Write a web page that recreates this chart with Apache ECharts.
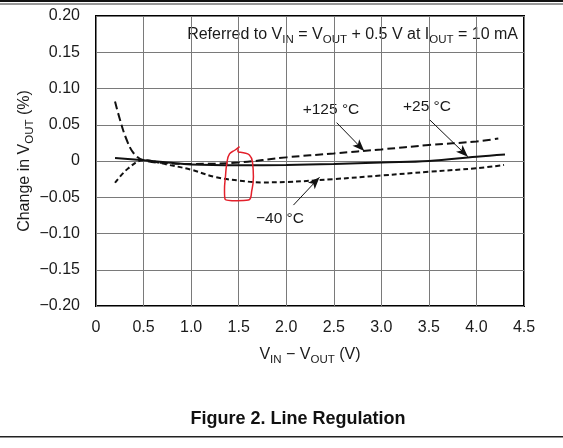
<!DOCTYPE html>
<html lang="en">
<head>
    <meta charset="UTF-8">
    <title>Line Regulation</title>
    <script src="https://cdn.jsdelivr.net/npm/echarts@6/dist/echarts.min.js"></script>
    <style>
        html, body { margin: 0; padding: 0; background: #fff; }
        #chart { width: 563px; height: 448px; }
    </style>
</head>
<body>
    <div id="chart"></div>
    <script>
        // VIN - VOUT (V) vs change in VOUT (%)
        const temp25 = [
            [0.2, 0.004], [0.5, 0.001], [0.75, -0.002], [1.0, -0.0048], [1.5, -0.0058],
            [2.0, -0.0055], [2.5, -0.0042], [3.0, -0.002], [3.5, 0.0], [4.0, 0.006], [4.3, 0.009]
        ];
        const temp125 = [
            [0.2, 0.082], [0.25, 0.058], [0.32, 0.030], [0.4, 0.010], [0.5, 0.001],
            [0.75, -0.003], [1.0, -0.004], [1.5, -0.002], [2.0, 0.005], [2.5, 0.0105],
            [3.0, 0.016], [3.5, 0.022], [4.0, 0.027], [4.23, 0.031]
        ];
        const tempMinus40 = [
            [0.2, -0.030], [0.34, -0.010], [0.5, 0.001], [0.75, -0.005], [1.0, -0.012],
            [1.25, -0.022], [1.5, -0.027], [1.75, -0.0295], [2.0, -0.029], [2.5, -0.025],
            [3.0, -0.020], [3.5, -0.0148], [4.0, -0.010], [4.29, -0.0055]
        ];
        // hand drawn red loop around 1.5 V
        const markupLoop = [
            [1.509, 0.0198], [1.463, 0.0152], [1.404, 0.0097], [1.376, -0.0032], [1.361, -0.0217],
            [1.351, -0.040], [1.358, -0.0529], [1.481, -0.0548], [1.603, -0.0539], [1.639, -0.040],
            [1.655, -0.0217], [1.645, -0.001], [1.613, 0.0083], [1.55, 0.0115], [1.498, 0.0124], [1.491, 0.016]
        ];
        const xTickLabels = ['0', '0.5', '1.0', '1.5', '2.0', '2.5', '3.0', '3.5', '4.0', '4.5'];
        const yTickLabels = ['\u22120.20', '\u22120.15', '\u22120.10', '\u22120.05', '0', '0.05', '0.10', '0.15', '0.20'];
        // callout arrows: [from, to]
        const arrow125 = [[2.53, 0.0529], [2.82, 0.0138]];
        const arrow25 = [[3.51, 0.0566], [3.91, 0.0059]];
        const arrowMinus40 = [[2.076, -0.0608], [2.35, -0.0225]];

        const font = '"Liberation Sans", Arial, sans-serif';
        const ink = '#1a1a1a';

        // normal + subscript styles for rich text
        const richText = {
            n: { fontFamily: font, fontSize: 16, color: ink, fill: ink, lineHeight: 22, verticalAlign: 'middle' },
            s: { fontFamily: font, fontSize: 11.5, color: ink, fill: ink, lineHeight: 13, verticalAlign: 'bottom' }
        };

        const chart = echarts.init(document.getElementById('chart'));

        function arrowLine(pair) {
            return [{ coord: pair[0] }, { coord: pair[1] }];
        }

        chart.setOption({
            animation: false,
            backgroundColor: '#fff',
            grid: {
                left: 96, right: 39, top: 16, bottom: 142,
                show: true, borderColor: '#000', borderWidth: 2
            },
            xAxis: {
                type: 'value', min: 0, max: 4.5, interval: 0.5,
                axisLine: { show: false }, axisTick: { show: false },
                axisLabel: {
                    margin: 14, color: ink, fontFamily: font, fontSize: 16,
                    formatter: v => xTickLabels[Math.round(v / 0.5)]
                },
                splitLine: { lineStyle: { color: '#7a7a7a', width: 1 } },
                name: '{n|V}{s|IN}{n| \u2212 V}{s|OUT}{n| (V)}',
                nameLocation: 'middle', nameGap: 38, nameMoveOverlap: false,
                nameTextStyle: { rich: richText }
            },
            yAxis: {
                type: 'value', min: -0.2, max: 0.2, interval: 0.05,
                axisLine: { show: false }, axisTick: { show: false },
                axisLabel: {
                    margin: 16, color: ink, fontFamily: font, fontSize: 16,
                    formatter: v => yTickLabels[Math.round((v + 0.2) / 0.05)]
                },
                splitLine: { lineStyle: { color: '#7a7a7a', width: 1 } },
                name: '{n|Change in V}{s|OUT}{n| (%)}',
                nameLocation: 'middle', nameGap: 60, nameRotate: 90, nameMoveOverlap: false,
                nameTextStyle: { rich: richText }
            },
            series: [
                {
                    name: '+25 °C', type: 'line', data: temp25, smooth: 0.4, showSymbol: false,
                    lineStyle: { color: '#111', width: 2 }, silent: true,
                    markLine: {
                        silent: true, symbol: ['none', 'arrow'], symbolSize: [7, 12],
                        label: { show: false },
                        lineStyle: { color: '#111', width: 1, type: 'solid' },
                        data: [arrowLine(arrow25), arrowLine(arrow125), arrowLine(arrowMinus40)]
                    }
                },
                {
                    name: '+125 °C', type: 'line', data: temp125, smooth: 0.4, showSymbol: false,
                    lineStyle: { color: '#111', width: 2, type: [8, 4] }, silent: true
                },
                {
                    name: '\u221240 °C', type: 'line', data: tempMinus40, smooth: 0.4, showSymbol: false,
                    lineStyle: { color: '#111', width: 2, type: [5, 3] }, silent: true
                },
                {
                    name: 'markup', type: 'line', data: markupLoop, smooth: 0.5, showSymbol: false,
                    lineStyle: { color: '#e3202b', width: 1.5 }, silent: true
                }
            ],
            graphic: [
                { type: 'rect', shape: { x: 0, y: 0, width: 563, height: 2 }, style: { fill: '#111' } },
                { type: 'rect', shape: { x: 0, y: 3.5, width: 563, height: 1 }, style: { fill: '#333' } },
                { type: 'rect', shape: { x: 0, y: 436, width: 563, height: 1.5 }, style: { fill: '#222' } },
                {
                    type: 'text', x: 518, y: 35,
                    style: {
                        text: '{n|Referred to V}{s|IN}{n| = V}{s|OUT}{n| + 0.5 V at I}{s|OUT}{n| = 10 mA}',
                        align: 'right', verticalAlign: 'middle', rich: richText
                    }
                },
                {
                    type: 'text', x: 331, y: 110,
                    style: { text: '+125 °C', font: '15.5px ' + font, fill: ink, align: 'center', verticalAlign: 'middle' }
                },
                {
                    type: 'text', x: 427, y: 107,
                    style: { text: '+25 °C', font: '15.5px ' + font, fill: ink, align: 'center', verticalAlign: 'middle' }
                },
                {
                    type: 'text', x: 280, y: 219,
                    style: { text: '\u221240 °C', font: '15.5px ' + font, fill: ink, align: 'center', verticalAlign: 'middle' }
                },
                {
                    type: 'text', x: 298, y: 419,
                    style: { text: 'Figure 2. Line Regulation', font: 'bold 18px ' + font, fill: '#111', align: 'center', verticalAlign: 'middle' }
                }
            ]
        });
    </script>
</body>
</html>
